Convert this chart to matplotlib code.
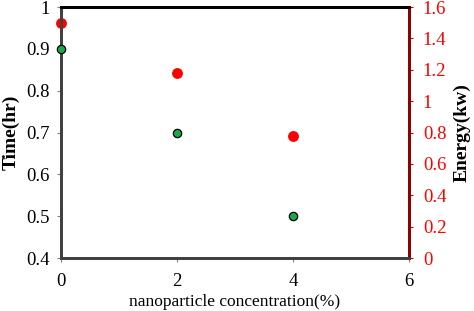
import matplotlib
matplotlib.use("Agg")
import matplotlib.pyplot as plt

conc = [0, 2, 4]
time_hr = [0.9, 0.7, 0.5]
energy_kw = [1.5, 1.18, 0.78]
x_ticks = [0, 2, 4, 6]
time_ticks = [0.4, 0.5, 0.6, 0.7, 0.8, 0.9, 1.0]
time_labels = ["0.4", "0.5", "0.6", "0.7", "0.8", "0.9", "1"]
energy_ticks = [0, 0.2, 0.4, 0.6, 0.8, 1.0, 1.2, 1.4, 1.6]
energy_labels = ["0", "0.2", "0.4", "0.6", "0.8", "1", "1.2", "1.4", "1.6"]

plt.rcParams['font.family'] = ['Liberation Serif', 'DejaVu Serif']

fig = plt.figure(figsize=(4.74, 3.11), dpi=100)
ax = fig.add_axes([0.1287, 0.1704, 0.734, 0.807])
ax2 = ax.twinx()

ax.set_xlim(0, 6)
ax.set_ylim(0.4, 1.0)
ax2.set_ylim(0, 1.6)

ax.set_xticks(x_ticks)
ax.set_xticklabels([str(v) for v in x_ticks])
ax.set_yticks(time_ticks)
ax.set_yticklabels(time_labels)
ax2.set_yticks(energy_ticks)
ax2.set_yticklabels(energy_labels)

ax2.plot(conc, energy_kw, 'o', color='#ff0000', markersize=6.8, markeredgecolor='#ff0000', clip_on=False, zorder=5)
ax.plot(conc, time_hr, 'o', color='#1aa84a', markersize=6, markeredgecolor='black', markeredgewidth=0.9, clip_on=False, zorder=6)
ax.set_zorder(ax2.get_zorder() + 1)
ax.patch.set_visible(False)

for a in (ax, ax2):
    a.spines['left'].set_color('#404040')
    a.spines['left'].set_linewidth(2)
    a.spines['bottom'].set_color('#404040')
    a.spines['bottom'].set_linewidth(2)
    a.spines['top'].set_color('black')
    a.spines['top'].set_linewidth(2)
    a.spines['right'].set_color('#8b0000')
    a.spines['right'].set_linewidth(2)

ax.tick_params(axis='both', labelsize=13.5, length=3, color='#808080', direction='out')
ax.tick_params(axis='y', pad=5)
ax.tick_params(axis='x', pad=8)
ax2.tick_params(axis='y', labelsize=13.5, length=3, color='#c00000', labelcolor='#ff0000', direction='out', pad=7)

ax.set_xlabel('nanoparticle concentration(%)', fontsize=12.5, labelpad=3)
ax.set_ylabel('Time(hr)', fontsize=14, fontweight='bold', labelpad=5)
ax2.set_ylabel('Energy(kw)', fontsize=14, fontweight='bold', labelpad=5)

fig.savefig('out.png', dpi=100)
